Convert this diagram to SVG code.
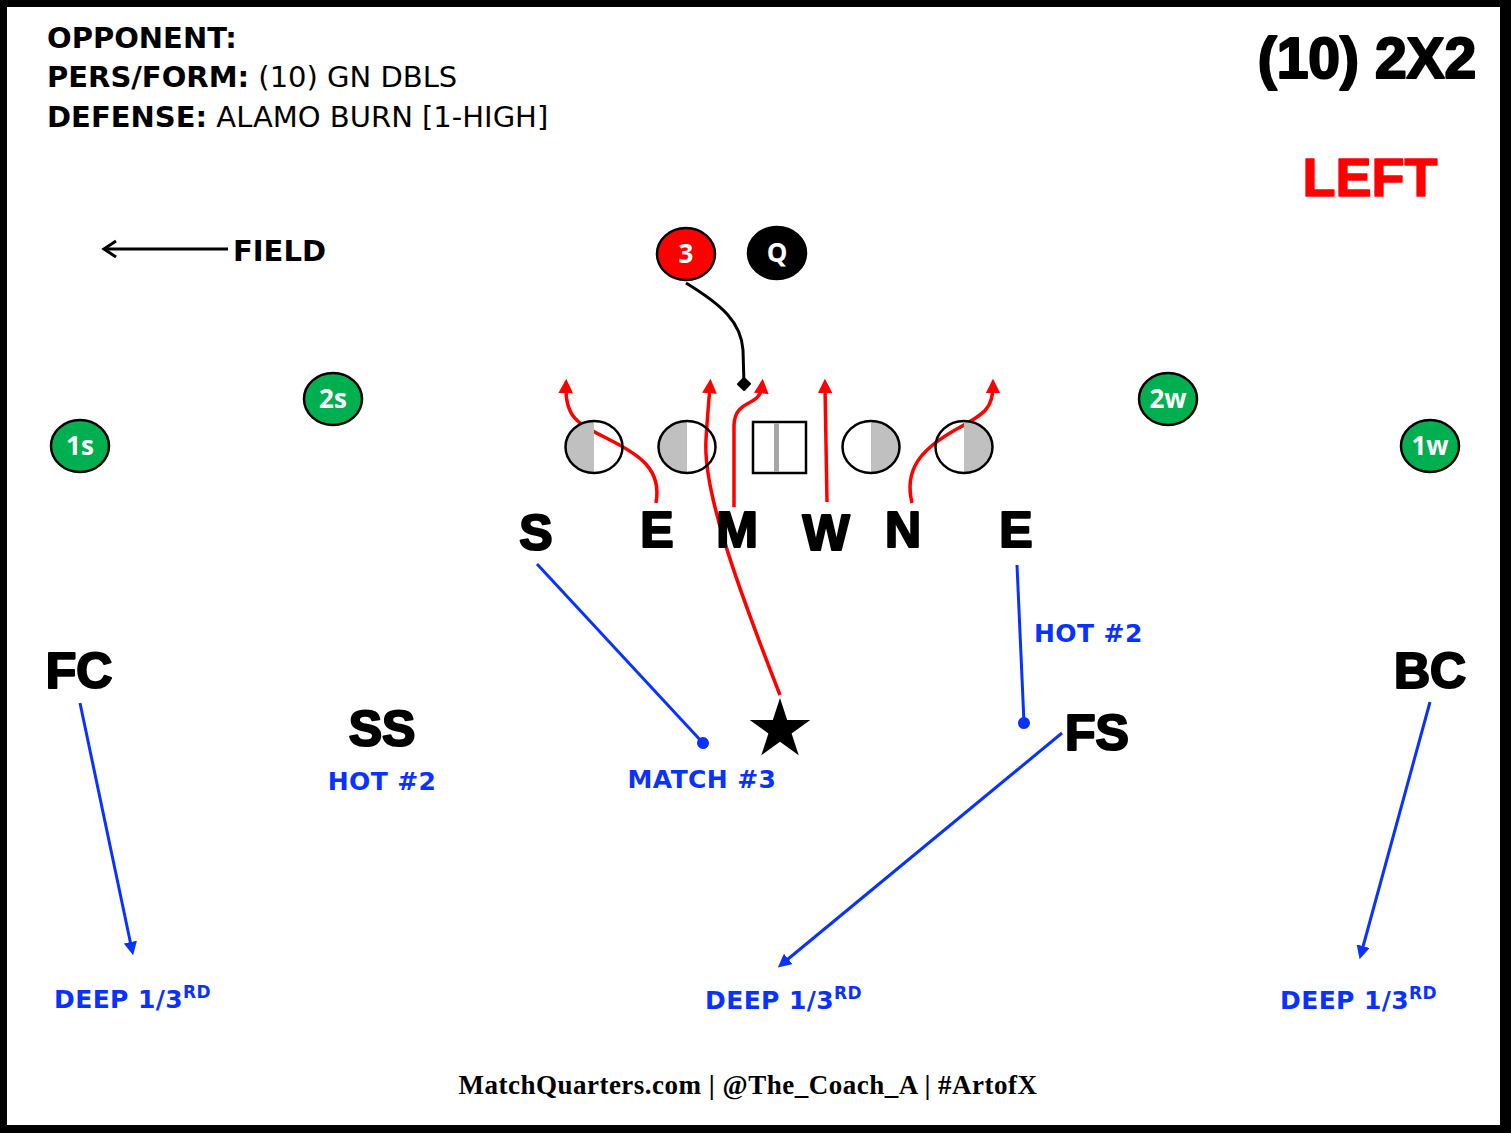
<svg xmlns="http://www.w3.org/2000/svg" width="1511" height="1133" viewBox="0 0 1511 1133">
<style>
.hdr{font-family:"DejaVu Sans",Verdana,sans-serif;font-size:29px;fill:#000}
.b{font-weight:bold}
.big{font-family:"Liberation Sans",Arial,sans-serif;font-weight:bold;fill:#000;text-anchor:middle;stroke:#000;stroke-width:2.2;stroke-linejoin:round}
.def{font-size:50px}
.blue{font-family:"DejaVu Sans",Verdana,sans-serif;font-weight:bold;font-size:25px;letter-spacing:0.4px;fill:#0a32ff}
.circ{stroke:#000;stroke-width:2.5}
.ctxt{font-family:"Open Sans","Noto Sans",sans-serif;font-weight:bold;font-size:26px;fill:#fff;text-anchor:middle}
.red{fill:none;stroke:#ff0000;stroke-width:3.5;marker-end:url(#ra)}
.bl{fill:none;stroke:#0a32ff;stroke-width:3}
.ol{fill:none;stroke:#000;stroke-width:2.5}
.gray{fill:#c0c0c0}
</style>
<defs>
<marker id="ra" viewBox="0 0 10 10" refX="5" refY="5" markerWidth="4.2" markerHeight="4.2" orient="auto" markerUnits="strokeWidth">
<path d="M0,0 L10,5 L0,10 Z" fill="#ff0000"/>
</marker>
<marker id="ba" viewBox="0 0 10 10" refX="6" refY="5" markerWidth="4.5" markerHeight="4.5" orient="auto" markerUnits="strokeWidth">
<path d="M0,0 L10,5 L0,10 Z" fill="#0a32ff"/>
</marker>
<marker id="bd" viewBox="0 0 10 10" refX="5" refY="5" markerWidth="4" markerHeight="4" orient="auto" markerUnits="strokeWidth">
<circle cx="5" cy="5" r="5" fill="#0a32ff"/>
</marker>
<marker id="kd" viewBox="0 0 10 10" refX="5" refY="5" markerWidth="5" markerHeight="5" orient="auto" markerUnits="strokeWidth">
<path d="M0,5 L5,0 L10,5 L5,10 Z" fill="#000"/>
</marker>
</defs>
<rect x="0" y="0" width="1511" height="1133" fill="#000"/>
<rect x="7" y="7" width="1493" height="1118" fill="#fff"/>

<g id="header">
<text class="hdr b" x="47" y="48">OPPONENT:</text>
<text class="hdr" x="47" y="87"><tspan class="b">PERS/FORM:</tspan> (10) GN DBLS</text>
<text class="hdr" x="47" y="127"><tspan class="b">DEFENSE:</tspan> ALAMO BURN [1-HIGH]</text>
<text class="big" x="1367" y="78" font-size="57">(10) 2X2</text>
<text class="big" x="1370" y="196" font-size="54" style="fill:#ff0000;stroke:#ff0000;stroke-width:1.5">LEFT</text>
</g>

<g id="field">
<line x1="104" y1="249" x2="228" y2="249" stroke="#000" stroke-width="3"/>
<path d="M116,241 L104,249 L116,257" fill="none" stroke="#000" stroke-width="3"/>
<text class="hdr b" x="233" y="261">FIELD</text>
</g>

<g id="connectors">
<path d="M686,283 C722,305 741,322 743,350 L744,384" fill="none" stroke="#000" stroke-width="3" marker-end="url(#kd)"/>
<path class="red" d="M656,503 C662,470 640,455 610,440 C578,424 565,418 566,386"/>
<path class="red" d="M780,695 C735,580 703,490 706,440 C707,420 709,400 710,386"/>
<path class="red" d="M734,507 L734,425 C735,398 760,408 762,386"/>
<path class="red" d="M827,502 L825,386"/>
<path class="red" d="M912,503 C904,470 920,450 955,430 C985,414 993,408 993,386"/>
<line class="bl" x1="537" y1="564" x2="703" y2="743" marker-end="url(#bd)"/>
<line class="bl" x1="1017" y1="565" x2="1024" y2="723" marker-end="url(#bd)"/>
<line class="bl" x1="80" y1="703" x2="132" y2="950" marker-end="url(#ba)"/>
<line class="bl" x1="1062" y1="733" x2="782" y2="964" marker-end="url(#ba)"/>
<line class="bl" x1="1430" y1="702" x2="1361" y2="954" marker-end="url(#ba)"/>
</g>

<g id="n3"><ellipse class="circ" cx="686" cy="254" rx="29" ry="26" fill="#ff0000"/><text class="ctxt" x="686" y="263">3</text></g>
<g id="nQ"><ellipse class="circ" cx="777" cy="253" rx="29" ry="26" fill="#000"/><text class="ctxt" x="777" y="262">Q</text></g>

<g id="n1s"><ellipse class="circ" cx="80" cy="446" rx="29" ry="26" fill="#00b050"/><text class="ctxt" x="80" y="455">1s</text></g>
<g id="n2s"><ellipse class="circ" cx="333" cy="399" rx="29" ry="26" fill="#00b050"/><text class="ctxt" x="333" y="408">2s</text></g>
<g id="n2w"><ellipse class="circ" cx="1168" cy="399" rx="29" ry="26" fill="#00b050"/><text class="ctxt" x="1168" y="408">2w</text></g>
<g id="n1w"><ellipse class="circ" cx="1430" cy="446" rx="29" ry="26" fill="#00b050"/><text class="ctxt" x="1430" y="455">1w</text></g>

<g id="ol1"><path class="gray" d="M594,421 A28.5,26 0 0 0 594,473 Z"/><ellipse class="ol" cx="594" cy="447" rx="28.5" ry="26"/></g>
<g id="ol2"><path class="gray" d="M687,421 A28.5,26 0 0 0 687,473 Z"/><ellipse class="ol" cx="687" cy="447" rx="28.5" ry="26"/></g>
<g id="center"><rect x="753" y="422" width="53" height="51" fill="#fff" stroke="#000" stroke-width="2.5"/><rect x="774" y="423" width="5" height="49" fill="#a6a6a6"/></g>
<g id="ol4"><path class="gray" d="M871,421 A28.5,26 0 0 1 871,473 Z"/><ellipse class="ol" cx="871" cy="447" rx="28.5" ry="26"/></g>
<g id="ol5"><path class="gray" d="M964,421 A28.5,26 0 0 1 964,473 Z"/><ellipse class="ol" cx="964" cy="447" rx="28.5" ry="26"/></g>

<g id="defense">
<text class="big def" x="536" y="550">S</text>
<text class="big def" x="657" y="547">E</text>
<text class="big def" x="737" y="547">M</text>
<text class="big def" x="826" y="550">W</text>
<text class="big def" x="903" y="547">N</text>
<text class="big def" x="1016" y="547">E</text>
<text class="big def" x="79" y="688">FC</text>
<text class="big def" x="382" y="746">SS</text>
<text class="big def" x="1097" y="750">FS</text>
<text class="big def" x="1430" y="688">BC</text>
<path d="M780,698 L787.2,719.9 L810.2,719.9 L791.6,733.4 L798.7,755.3 L780,741.8 L761.3,755.3 L768.4,733.4 L749.8,719.9 L772.8,719.9 Z" fill="#000"/>
</g>

<g id="labels">
<text class="blue" x="382" y="790" text-anchor="middle">HOT #2</text>
<text class="blue" x="702" y="788" text-anchor="middle">MATCH #3</text>
<text class="blue" x="1034" y="642">HOT #2</text>
<text class="blue" x="54" y="1008">DEEP 1/3<tspan font-size="17" dy="-10">RD</tspan></text>
<text class="blue" x="705" y="1009">DEEP 1/3<tspan font-size="17" dy="-10">RD</tspan></text>
<text class="blue" x="1280" y="1009">DEEP 1/3<tspan font-size="17" dy="-10">RD</tspan></text>
</g>

<text x="748" y="1094" text-anchor="middle" font-family="'Liberation Serif','Times New Roman',serif" font-weight="bold" font-size="27" letter-spacing="0.5">MatchQuarters.com | @The_Coach_A | #ArtofX</text>
</svg>
